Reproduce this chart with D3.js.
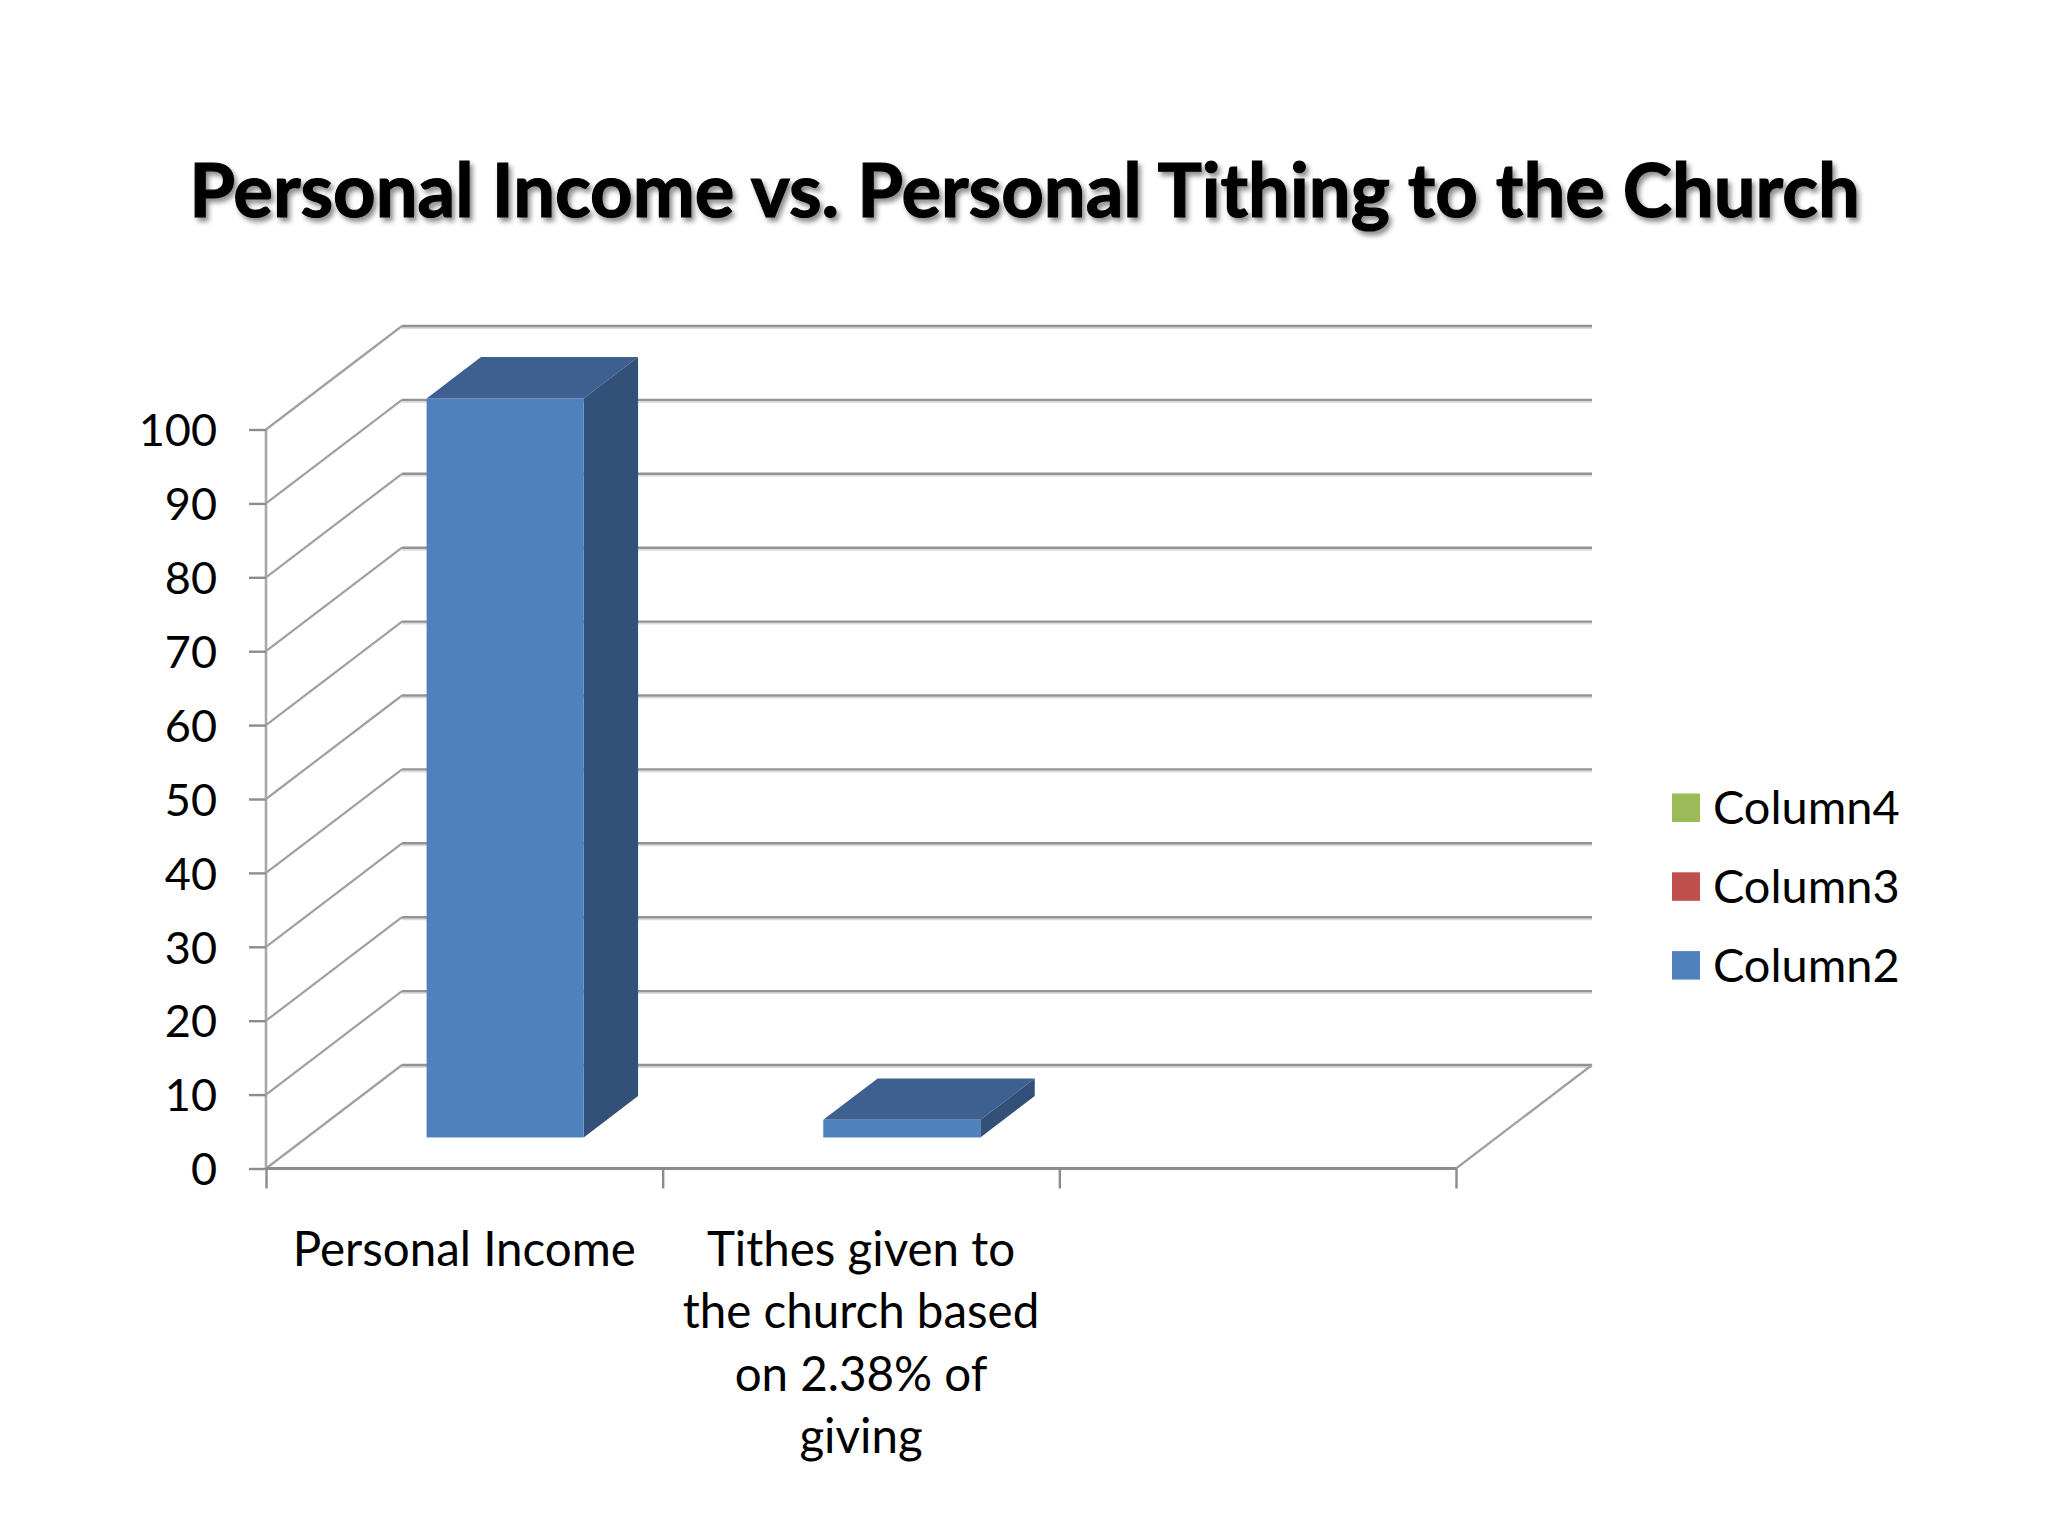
<!DOCTYPE html>
<html><head><meta charset="utf-8">
<script src="https://cdn.jsdelivr.net/npm/d3@7"></script>
<style>html,body{margin:0;background:#fff}svg{display:block}text{font-family:Lato,"Noto Sans",sans-serif;fill:#000}</style>
</head><body><svg id="c" width="2048" height="1536"></svg>
<script>
const chartTitle = "Personal Income vs. Personal Tithing to the Church";
const categories = ["Personal Income", "Tithes given to the church based on 2.38% of giving", ""];
const categoryLines = [["Personal Income"], ["Tithes given to", "the church based", "on 2.38% of", "giving"], []];
const column2 = [100, 2.38, 0];
const legendNames = ["Column4", "Column3", "Column2"];
const legendColors = ["#9bbb59", "#c0504d", "#4f81bd"];
const yTicks = [0,10,20,30,40,50,60,70,80,90,100];

const svg = d3.select("#c");
const x = d3.scaleBand().domain(categories).range([266, 1456]);
const y = d3.scaleLinear().domain([0,100]).range([1168.5, 429.5]);
const DX = 136, DY = -103.5;              // floor depth vector
const px = (xv, d) => xv + d*DX;
const py = (v, d) => y(v) + d*DY;

// back wall gridlines (soft shadow + line) and side wall diagonals
const g = svg.append("g");
g.selectAll(".gridShadow").data(yTicks).join("line")
  .attr("x1", px(x.range()[0],1)).attr("x2", px(x.range()[1],1))
  .attr("y1", d=>py(d,1)+2).attr("y2", d=>py(d,1)+2)
  .attr("stroke", "#dcdcdc").attr("stroke-width", 2);
g.selectAll(".grid").data(yTicks).join("line")
  .attr("x1", px(x.range()[0],1)).attr("x2", px(x.range()[1],1))
  .attr("y1", d=>py(d,1)).attr("y2", d=>py(d,1))
  .attr("stroke", "#939393").attr("stroke-width", 2.4);
g.selectAll(".diag").data(yTicks).join("line")
  .attr("x1", px(x.range()[0],0)).attr("x2", px(x.range()[0],1))
  .attr("y1", d=>py(d,0)).attr("y2", d=>py(d,0)+DY)
  .attr("stroke", "#a0a0a0").attr("stroke-width", 2.2);
g.append("line").attr("x1", px(x.range()[1],0)).attr("x2", px(x.range()[1],1))
  .attr("y1", py(0,0)).attr("y2", py(0,1)).attr("stroke","#a0a0a0").attr("stroke-width",2.2);

// axes
const yAxis = d3.axisLeft(y).tickValues(yTicks).tickSize(17).tickPadding(32);
const ya = svg.append("g").attr("transform", `translate(${x.range()[0]},0)`).call(yAxis);
ya.select(".domain").attr("d", `M0,${y(100)}V${y(0)}`).attr("stroke","#a8a8a8").attr("stroke-width",2.6);
ya.selectAll(".tick line").attr("stroke","#8c8c8c").attr("stroke-width",2.4);
ya.selectAll("text").style("font-size","45px").attr("dy","0.36em");

const edges = [x.range()[0], ...categories.map(c=>x(c)+x.bandwidth())];
const edgeScale = d3.scaleOrdinal().domain(edges).range(edges);
const xa = svg.append("g").attr("transform", `translate(0,${y(0)})`)
  .call(d3.axisBottom(edgeScale).tickValues(edges).tickSize(20).tickFormat(""));
xa.select(".domain").attr("d", `M${edges[0]},0H${edges[edges.length-1]}`).attr("stroke","#8c8c8c").attr("stroke-width",2.8);
xa.selectAll(".tick line").attr("stroke","#8c8c8c").attr("stroke-width",2.4);

// bars
const barW = x.bandwidth()*0.396, d0 = 0.30, d1 = 0.70;
const bars = svg.append("g").selectAll("g").data(categories.map((c,i)=>({c,v:column2[i]})).filter(d=>d.v>0)).join("g");
const left = d => x(d.c) + (x.bandwidth()-barW)/2;
const poly = pts => pts.map(p=>p.join(",")).join(" ");
bars.append("polygon").attr("fill","#3e6090").attr("points", d=>{
  const l=left(d), r=l+barW;
  return poly([[px(l,d0),py(d.v,d0)],[px(r,d0),py(d.v,d0)],[px(r,d1),py(d.v,d1)],[px(l,d1),py(d.v,d1)]]);
});
bars.append("polygon").attr("fill","#325078").attr("points", d=>{
  const r=left(d)+barW;
  return poly([[px(r,d0),py(d.v,d0)],[px(r,d1),py(d.v,d1)],[px(r,d1),py(0,d1)],[px(r,d0),py(0,d0)]]);
});
bars.append("rect").attr("fill","#4f81bd")
  .attr("x", d=>px(left(d),d0)).attr("width", barW)
  .attr("y", d=>py(d.v,d0)).attr("height", d=>py(0,d0)-py(d.v,d0));

// category labels
const lineH = 62.4;
svg.append("g").selectAll("text").data(categories.map((c,i)=>({c,lines:categoryLines[i]}))).join("text")
  .attr("text-anchor","middle").style("font-size","47.5px")
  .each(function(d){
    d3.select(this).selectAll("tspan").data(d.lines).join("tspan")
      .attr("x", x(d.c)+x.bandwidth()/2).attr("y",(l,i)=>1266+i*lineH).text(l=>l);
  });

// legend
const leg = svg.append("g").selectAll("g").data(legendNames).join("g")
  .attr("transform",(d,i)=>`translate(1672,${808+i*78.8})`);
leg.append("rect").attr("x",0).attr("y",-14.5).attr("width",28).attr("height",28.5).attr("fill",(d,i)=>legendColors[i]);
leg.append("text").attr("x",41).attr("y",16).style("font-size","46.9px").text(d=>d);

// title
const defs = svg.append("defs");
defs.append("filter").attr("id","ts").attr("x","-5%").attr("y","-30%").attr("width","110%").attr("height","170%")
  .append("feDropShadow").attr("dx",3).attr("dy",4).attr("stdDeviation",2.5).attr("flood-color","#000").attr("flood-opacity",0.45);
svg.append("text").attr("x",1024.5).attr("y",217).attr("text-anchor","middle")
  .attr("filter","url(#ts)").style("font-size","74.2px").style("font-weight","700")
  .attr("stroke","#000").attr("stroke-width",1.2).text(chartTitle);
</script></body></html>
